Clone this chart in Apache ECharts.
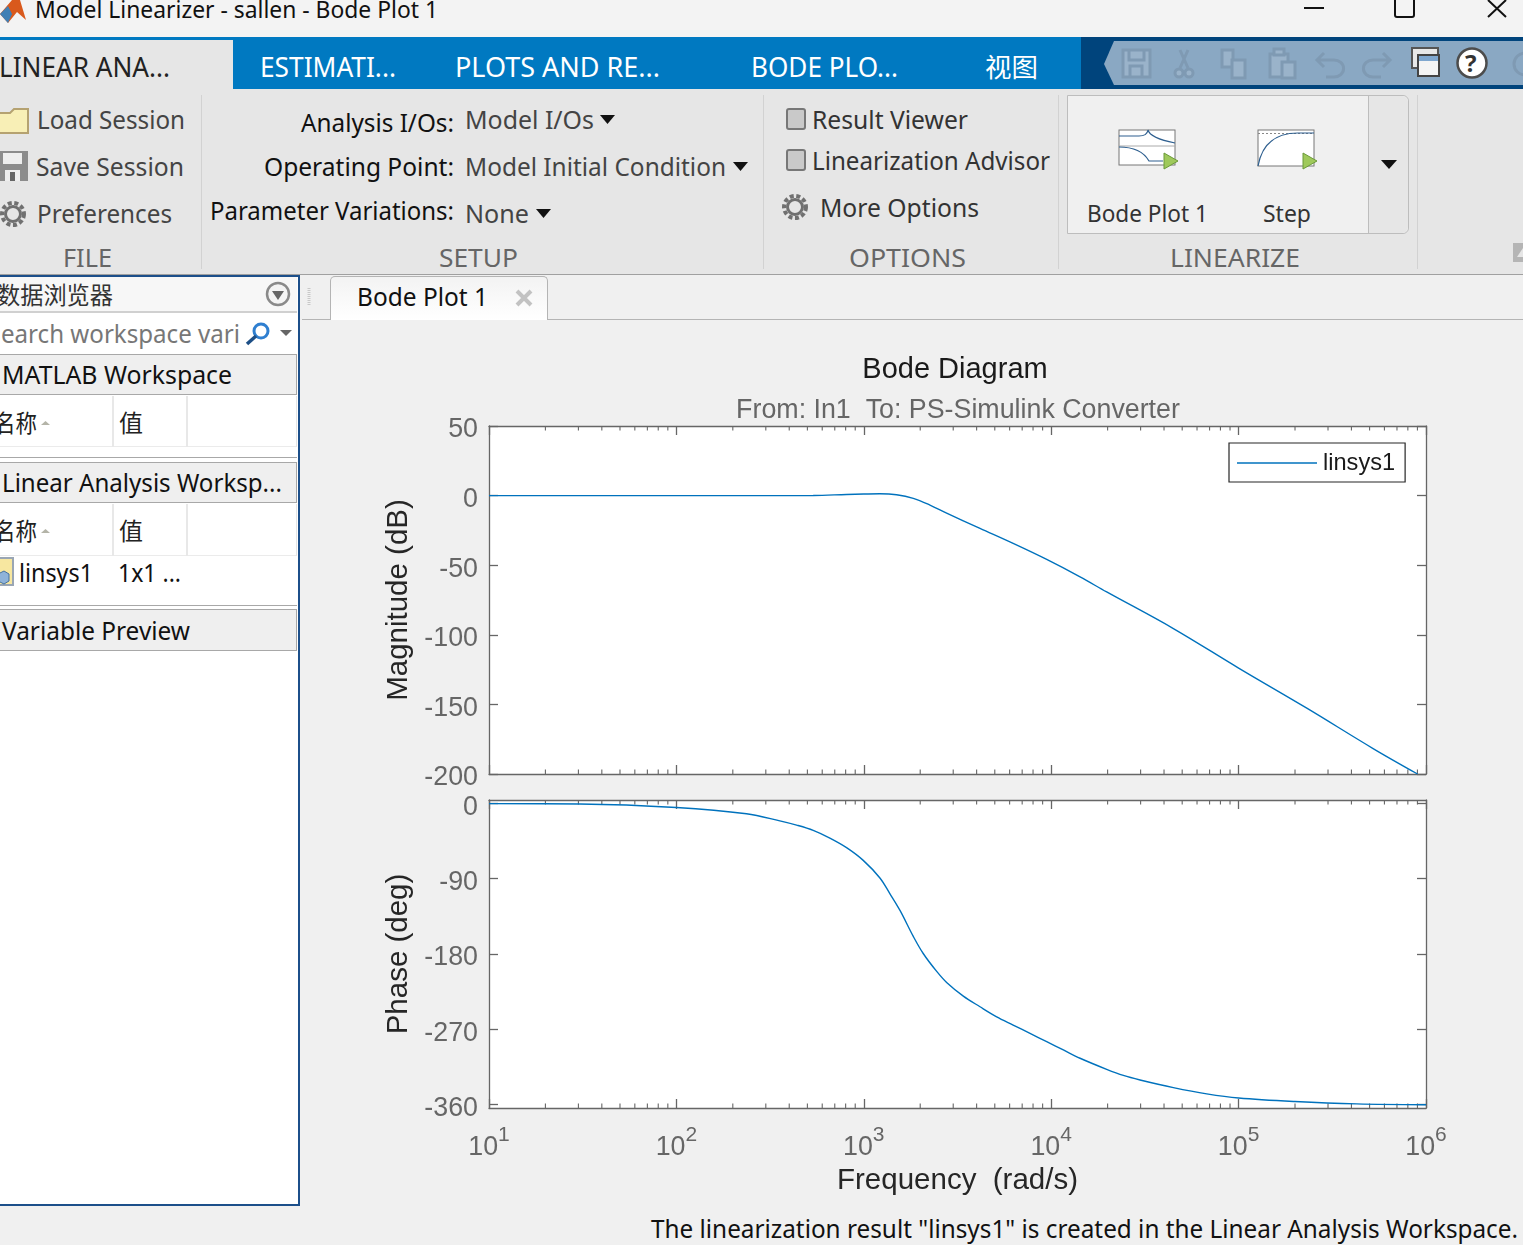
<!DOCTYPE html>
<html>
<head>
<meta charset="utf-8">
<title>Model Linearizer - sallen - Bode Plot 1</title>
<script src="https://cdn.jsdelivr.net/npm/echarts@6/dist/echarts.min.js"></script>
<style>
  html, body { margin: 0; width: 1523px; height: 1245px; overflow: hidden; background: #f0f0f0; }
  .box { position: absolute; box-sizing: border-box; }
  .txt { position: absolute; white-space: pre; transform-origin: left center; font-family: "Noto Sans", "Noto Sans CJK SC", sans-serif; line-height: 1; }
  #icons { position: absolute; left: 0; top: 0; }
  #container { position: absolute; left: 0; top: 0; width: 1523px; height: 1245px; }
</style>
</head>
<body>
<!-- window chrome -->
<div class="box" style="left:0;top:0;width:1523px;height:38px;background:#f3f3f3"></div>
<div class="box" style="left:0;top:37px;width:1081px;height:52px;background:#0079c1"></div>
<div class="box" style="left:1081px;top:37px;width:442px;height:52px;background:#00447c"></div>
<div class="box" style="left:0;top:40px;width:233px;height:49px;background:#e6e6e6"></div>
<div class="box" style="left:0;top:89px;width:1523px;height:185px;background:#e6e6e6"></div>
<div class="box" style="left:201px;top:95px;width:1px;height:174px;background:#d2d2d2"></div>
<div class="box" style="left:763px;top:95px;width:1px;height:174px;background:#d2d2d2"></div>
<div class="box" style="left:1058px;top:95px;width:1px;height:174px;background:#d2d2d2"></div>
<div class="box" style="left:1417px;top:95px;width:1px;height:174px;background:#d2d2d2"></div>
<div class="box" style="left:1067px;top:95px;width:342px;height:139px;background:#f0f0f0;border:1px solid #bdbdbd;border-radius:0 6px 6px 0"></div>
<div class="box" style="left:1368px;top:96px;width:40px;height:137px;background:#e6e6e6;border-left:1px solid #bdbdbd;border-radius:0 6px 6px 0"></div>
<div class="box" style="left:0;top:274px;width:1523px;height:1px;background:#a0a0a0"></div>
<!-- document tab -->
<div class="box" style="left:302px;top:319px;width:1221px;height:1px;background:#b4b4b4"></div>
<div class="box" style="left:330px;top:276px;width:218px;height:44px;background:linear-gradient(#f3f3f3,#fff);border:1px solid #b4b4b4;border-bottom:none;border-radius:5px 5px 0 0"></div>
<!-- data browser panel -->
<div class="box" style="left:-3px;top:275px;width:303px;height:931px;background:#fff;border:2px solid #1c4f8a"></div>
<div class="box" style="left:0;top:277px;width:297px;height:36px;background:#f7f7f7;border-bottom:2px solid #d0d0d0"></div>
<div class="box" style="left:-2px;top:354px;width:299px;height:41px;background:#efefef;border:1px solid #a8a8a8"></div>
<div class="box" style="left:-2px;top:396px;width:299px;height:51px;background:#fff;border-right:1px solid #e4e4e4;border-bottom:1px solid #ebebeb"></div>
<div class="box" style="left:112px;top:396px;width:76px;height:51px;border-left:2px solid #e8e8e8;border-right:2px solid #e8e8e8"></div>
<div class="box" style="left:-2px;top:457px;width:299px;height:1px;background:#a8a8a8"></div>
<div class="box" style="left:-2px;top:462px;width:299px;height:41px;background:#efefef;border:1px solid #a8a8a8"></div>
<div class="box" style="left:-2px;top:504px;width:299px;height:52px;background:#fff;border-right:1px solid #e4e4e4;border-bottom:1px solid #ebebeb"></div>
<div class="box" style="left:112px;top:504px;width:76px;height:52px;border-left:2px solid #e8e8e8;border-right:2px solid #e8e8e8"></div>
<div class="box" style="left:-2px;top:605px;width:299px;height:1px;background:#a8a8a8"></div>
<div class="box" style="left:-2px;top:609px;width:299px;height:42px;background:#efefef;border:1px solid #a8a8a8"></div>

<svg id="icons" width="1523" height="1245">
  <!-- matlab logo -->
  <polygon points="0,14 12,0 20,0 26,20 17,12 8,23" fill="#d9591c"/>
  <polygon points="0,14 8,6 12,14 8,23" fill="#3f7fb5"/>
  <!-- window buttons -->
  <rect x="1304" y="7" width="20" height="2" fill="#111"/>
  <rect x="1395" y="-6" width="19" height="23" rx="2" fill="none" stroke="#111" stroke-width="2"/>
  <path d="M1488 0 L1506 17 M1506 0 L1488 17" stroke="#111" stroke-width="2"/>
  <!-- quick access bar -->
  <polygon points="1104,64 1114,41 1523,41 1523,85 1114,85" fill="#8aa8c3"/>
  <g fill="#9ab3ca" stroke="#7f9ab3" stroke-width="3">
    <rect x="1123" y="50" width="27" height="27"/><path d="M1129 50v10h15V50M1130 77V66h12v11" fill="none"/>
    <path d="M1188 50L1180 68M1180 50L1188 68" fill="none"/><circle cx="1179" cy="73" r="4"/><circle cx="1189" cy="73" r="4"/>
    <rect x="1222" y="50" width="11" height="17"/><rect x="1232" y="60" width="13" height="18"/>
    <rect x="1270" y="54" width="18" height="23"/><rect x="1282" y="62" width="13" height="16"/><rect x="1274" y="49" width="10" height="6"/>
    <path d="M1318 60h16a9 8 0 0 1 0 17h-8M1324 53l-7 7 7 7" fill="none"/>
    <path d="M1389 60h-16a9 8 0 0 0 0 17h8M1383 53l7 7-7 7" fill="none"/>
  </g>
  <rect x="1412" y="48" width="26" height="20" fill="#e8e8e8" stroke="#555" stroke-width="2"/>
  <rect x="1418" y="55" width="21" height="21" fill="#f4f4f4" stroke="#444" stroke-width="2"/>
  <rect x="1419" y="56" width="19" height="5" fill="#7fa7cf"/>
  <circle cx="1472" cy="63" r="14.5" fill="#fff" stroke="#4c4c4c" stroke-width="2.5"/>
  <circle cx="1525" cy="64" r="11" fill="none" stroke="#7f9ab3" stroke-width="3"/>
  <!-- file group icons -->
  <path d="M-4 113h14l4 -4h14v24h-32z" fill="#f8efb6" stroke="#b5a271" stroke-width="2"/>
  <rect x="-2" y="151" width="30" height="30" fill="#8c8c8c"/>
  <rect x="3" y="153" width="19" height="11" fill="#eee"/><rect x="5" y="170" width="15" height="11" fill="#eee"/><rect x="10" y="172" width="5" height="9" fill="#666"/>
  <g fill="none" stroke="#707070">
    <circle cx="13" cy="214" r="11" stroke-width="4" stroke-dasharray="4 2.6"/>
    <circle cx="13" cy="214" r="7.5" stroke-width="3"/>
  </g>
  <g fill="none" stroke="#707070">
    <circle cx="795" cy="207" r="11" stroke-width="4" stroke-dasharray="4 2.6"/>
    <circle cx="795" cy="207" r="7.5" stroke-width="3"/>
  </g>
  <!-- option check boxes -->
  <rect x="787" y="109" width="18" height="20" rx="2" fill="#c9c9c9" stroke="#777" stroke-width="2"/>
  <rect x="787" y="150" width="18" height="20" rx="2" fill="#c9c9c9" stroke="#777" stroke-width="2"/>
  <!-- dropdown arrows -->
  <g fill="#111">
    <polygon points="600,115 615,115 607.5,124"/>
    <polygon points="733,162 748,162 740.5,171"/>
    <polygon points="536,209 551,209 543.5,218"/>
    <polygon points="1381,160 1397,160 1389,169"/>
  </g>
  <!-- gallery thumbnails -->
  <rect x="1119" y="130" width="56" height="35" fill="#fff" stroke="#777"/>
  <line x1="1119" y1="146" x2="1175" y2="146" stroke="#aaa"/>
  <path d="M1119 136h20q8 0 9-6q2 8 27 13M1119 147q22 0 30 14h14" fill="none" stroke="#2e5f8f" stroke-width="1.2"/>
  <rect x="1258" y="130" width="56" height="36" fill="#fff" stroke="#777"/>
  <path d="M1258 133.500h56" stroke="#888" stroke-dasharray="2 2"/>
  <path d="M1258 166q6-33 40-33h16" fill="none" stroke="#2e5f8f" stroke-width="1.2"/>
  <polygon points="1164,153 1178,161 1164,169" fill="#9fc95b" stroke="#6b9a3a"/>
  <polygon points="1303,153 1317,161 1303,169" fill="#9fc95b" stroke="#6b9a3a"/>
  <!-- expand mark at ribbon corner -->
  <path d="M1513 243h10v5l-6 9h6v5h-10" fill="#b5b5b5"/>
  <!-- document tab bits -->
  <path d="M309 288v17" stroke="#c8c8c8" stroke-width="3" stroke-dasharray="1 1"/>
  <path d="M517 291L531 305M531 291L517 305" stroke="#c2c2c2" stroke-width="4"/>
  <!-- panel icons -->
  <circle cx="278" cy="294" r="11" fill="#f4f4f4" stroke="#8a8a8a" stroke-width="2.500"/>
  <polygon points="272,291 284,291 278,300" fill="#666"/>
  <circle cx="261" cy="331" r="7" fill="none" stroke="#2f7fd0" stroke-width="3"/>
  <path d="M256 336L247 344" stroke="#1d4f86" stroke-width="3.500"/>
  <polygon points="280,330 292,330 286,336" fill="#666"/>
  <polygon points="41,425 50,425 45.500,421" fill="#b4b4a8"/>
  <polygon points="41,533 50,533 45.500,529" fill="#b4b4a8"/>
  <rect x="-2" y="558" width="15" height="27" fill="#f7e7a0" stroke="#9aa6b4" stroke-width="2"/>
  <path d="M-2 574l6-3 5 3v7l-5 3-6-3z" fill="#8fb3d9" stroke="#44709f"/>
</svg>

<div id="labels"></div>
<div id="container"></div>

<script type="text/javascript">
// magnitude curve
var magFreq = [10, 100, 356, 537, 809, 1000, 1219, 1496, 1837, 2254, 2767, 4169, 6266, 9462, 14256, 19770, 44870, 100000, 231200, 524800, 901600];
var magDb = [0, 0, 0, 0.1, 0.8, 1.1, 1.3, 0.6, -2, -6.8, -12.6, -23.6, -34.4, -45.9, -58.4, -69.2, -95.5, -123.9, -152.7, -181.9, -200];
// phase curve
var phaseFreq = [10, 30.5, 100, 236.6, 356.4, 438, 537, 659, 809, 993, 1219, 1377, 1560, 1837, 2075, 2443, 2767, 3396, 4169, 5117, 6266, 7708, 9462, 11610, 14256, 19770, 24270, 29785, 44870, 67610, 100000, 199500, 426600, 1000000];
var phaseDeg = [-0.4, -0.8, -5, -12.5, -21, -26.1, -32.4, -41.6, -53, -68.2, -89.2, -107.9, -128, -159, -179.4, -200.5, -214, -230.3, -243, -255, -264.8, -274.8, -284.7, -294.6, -304.5, -317.7, -325, -330.4, -339.5, -347, -352, -356.2, -359, -360];
var phaseTicks = [-360, -270, -180, -90, 0];
var minorFreq = [];
for (var d = 10; d < 1000000; d *= 10) {
    for (var m = 2; m < 10; m++) minorFreq.push(m * d);
}

// text, left, centre y, font size, colour, width in the picture
var uiLabels = [
    ['Model Linearizer - sallen - Bode Plot 1', 35, 9, 23, '#111', 403],
    ['LINEAR ANA...', -1, 66, 27, '#222', 171],
    ['ESTIMATI...', 260, 66, 27, '#fff', 136],
    ['PLOTS AND RE...', 455, 66, 27, '#fff', 205],
    ['BODE PLO...', 751, 66, 27, '#fff', 147],
    ['视图', 985, 67, 26, '#fff', 53],
    ['Load Session', 37, 119, 26, '#444', 148],
    ['Save Session', 36, 166, 26, '#444', 148],
    ['Preferences', 37, 213, 26, '#444', 135],
    ['FILE', 63, 257, 26, '#666', 49],
    ['SETUP', 439, 257, 26, '#666', 79],
    ['OPTIONS', 849, 257, 26, '#666', 117],
    ['LINEARIZE', 1170, 257, 26, '#666', 130],
    ['Analysis I/Os:', 301, 122, 26, '#111', 153],
    ['Operating Point:', 264, 166, 26, '#111', 190],
    ['Parameter Variations:', 210, 210, 26, '#111', 244],
    ['Model I/Os', 465, 119, 26, '#444', 129],
    ['Model Initial Condition', 465, 166, 26, '#444', 261],
    ['None', 465, 213, 26, '#444', 64],
    ['Result Viewer', 812, 119, 26, '#333', 156],
    ['Linearization Advisor', 812, 160, 26, '#333', 238],
    ['More Options', 820, 207, 26, '#333', 159],
    ['Bode Plot 1', 1087, 213, 24, '#333', 121],
    ['Step', 1263, 213, 24, '#333', 48],
    ['Bode Plot 1', 357, 296, 26, '#111', 131],
    ['数据浏览器', -3, 295, 24, '#333', 116],
    ['earch workspace vari', 1, 333, 25, '#777', 239],
    ['MATLAB Workspace', 2, 374, 25, '#111', 230],
    ['名称', -6, 423, 24, '#222', 43],
    ['值', 119, 423, 24, '#222', 24],
    ['Linear Analysis Worksp...', 2, 482, 25, '#111', 280],
    ['名称', -6, 531, 24, '#222', 43],
    ['值', 119, 531, 24, '#222', 24],
    ['linsys1', 19, 572, 25, '#111', 74],
    ['1x1 ...', 118, 572, 25, '#111', 63],
    ['Variable Preview', 2, 630, 25, '#111', 188],
    ['The linearization result "linsys1" is created in the Linear Analysis Workspace.', 651, 1228, 26, '#111', 867]
];
var labelBox = document.getElementById('labels');
uiLabels.forEach(function (l) {
    var el = document.createElement('div');
    el.className = 'txt';
    el.textContent = l[0];
    el.style.left = l[1] + 'px';
    el.style.top = l[2] + 'px';
    el.style.fontSize = l[3] + 'px';
    el.style.color = l[4];
    labelBox.appendChild(el);
    var w = el.getBoundingClientRect().width;
    el.style.transform = 'translateY(-50%) scaleX(' + (l[5] / w) + ')';
});
var helpMark = document.createElement('div');
helpMark.className = 'txt';
helpMark.textContent = '?';
helpMark.style.cssText = 'left:1465px;top:63px;font-size:24px;font-weight:bold;color:#333;transform:translateY(-50%)';
labelBox.appendChild(helpMark);

function zip(xs, ys) {
    return xs.map(function (x, i) { return [x, ys[i]]; });
}

var axisGray = '#666666';
var plotFont = '"Liberation Sans", Arial, sans-serif';

function xAxisOf(gridIndex, position, withLabels) {
    return {
        type: 'log',
        logBase: 10,
        gridIndex: gridIndex,
        position: position,
        min: 10,
        max: 1000000,
        name: withLabels ? 'Frequency  (rad/s)' : '',
        nameLocation: 'middle',
        nameGap: 58,
        nameTextStyle: { fontFamily: plotFont, fontSize: 29.5, color: '#262626' },
        axisLine: { show: true, onZero: false, lineStyle: { color: axisGray, width: 1.3 } },
        axisTick: { show: true, inside: true, length: 9, lineStyle: { color: axisGray, width: 1.3 } },
        minorTick: { show: false },
        splitLine: { show: false },
        axisLabel: {
            show: withLabels,
            margin: 17,
            hideOverlap: false,
            formatter: function (v) {
                return '{b|10}{s|' + Math.round(Math.log10(v)) + '}';
            },
            rich: {
                b: { fontFamily: plotFont, fontSize: 26.8, color: axisGray, lineHeight: 36, verticalAlign: 'bottom' },
                s: { fontFamily: plotFont, fontSize: 21, color: axisGray, lineHeight: 36, verticalAlign: 'top', padding: [0, 0, 6, 0] }
            }
        }
    };
}

function yAxisOf(gridIndex, position, name, range, withLabels) {
    return {
        type: 'value',
        gridIndex: gridIndex,
        position: position,
        min: range[0],
        max: range[1],
        name: name,
        nameLocation: 'middle',
        nameGap: 75,
        nameRotate: 90,
        nameMoveOverlap: false,
        nameTextStyle: { fontFamily: plotFont, fontSize: 29.5, color: '#262626' },
        axisLine: { show: true, onZero: false, lineStyle: { color: axisGray, width: 1.3 } },
        axisTick: { show: true, inside: true, length: 9, lineStyle: { color: axisGray, width: 1.3 } },
        splitLine: { show: false },
        axisLabel: {
            show: withLabels,
            margin: 11,
            verticalAlign: 'top',
            lineHeight: 8,
            fontFamily: plotFont,
            fontSize: 26.8,
            color: axisGray,
            showMinLabel: true,
            showMaxLabel: true
        }
    };
}

var magLeft = yAxisOf(0, 'left', 'Magnitude (dB)', [-200, 50], true);
var magRight = yAxisOf(0, 'right', '', [-200, 50], false);
magLeft.interval = 50;
magRight.interval = 50;
var phaseLeft = yAxisOf(1, 'left', 'Phase (deg)', [-363.9, 3.9], true);
var phaseRight = yAxisOf(1, 'right', '', [-363.9, 3.9], false);
phaseLeft.axisTick.customValues = phaseTicks;
phaseLeft.axisLabel.customValues = phaseTicks;
phaseRight.axisTick.customValues = phaseTicks;
phaseRight.axisLabel.customValues = phaseTicks;

// log minor ticks along the top and bottom edge of one plot
function minorTicks(params, api) {
    var x = api.coord([api.value(0), 0])[0];
    var top = params.coordSys.y;
    var bottom = top + params.coordSys.height;
    var style = { stroke: axisGray, lineWidth: 1.1 };
    return {
        type: 'group',
        children: [
            { type: 'line', shape: { x1: x, y1: top, x2: x, y2: top + 4.5 }, style: style },
            { type: 'line', shape: { x1: x, y1: bottom, x2: x, y2: bottom - 4.5 }, style: style }
        ]
    };
}
function minorSeries(xIdx, yIdx) {
    return {
        type: 'custom',
        xAxisIndex: xIdx,
        yAxisIndex: yIdx,
        silent: true,
        clip: false,
        renderItem: minorTicks,
        encode: { x: 0, y: 1 },
        data: minorFreq.map(function (f) { return [f, 0]; })
    };
}

function curve(name, xIdx, yIdx, data) {
    return {
        name: name,
        type: 'line',
        xAxisIndex: xIdx,
        yAxisIndex: yIdx,
        symbol: 'none',
        smooth: 0.35,
        lineStyle: { color: '#0072bd', width: 1.4 },
        itemStyle: { color: '#0072bd' },
        data: data,
        z: 5
    };
}

var myChart = echarts.init(document.getElementById('container'));
var option = {
    animation: false,
    backgroundColor: 'transparent',
    textStyle: { fontFamily: plotFont },
    title: [
        { text: 'Bode Diagram', left: 955, top: 355, textAlign: 'center', padding: 0, textStyle: { fontFamily: plotFont, fontSize: 29, fontWeight: 'normal', color: '#1a1a1a' } },
        { text: 'From: In1  To: PS-Simulink Converter', left: 958, top: 397, textAlign: 'center', padding: 0, textStyle: { fontFamily: plotFont, fontSize: 26.8, fontWeight: 'normal', color: axisGray } }
    ],
    legend: {
        data: [{ name: 'linsys1', icon: 'rect' }],
        left: 1229,
        top: 443,
        padding: [8, 10, 7, 8],
        itemWidth: 80,
        itemHeight: 1.5,
        backgroundColor: '#fff',
        borderColor: '#262626',
        borderWidth: 1.2,
        selectedMode: false,
        textStyle: { fontFamily: plotFont, fontSize: 23.6, color: '#1a1a1a', padding: [0, 0, 0, 1] }
    },
    grid: [
        { left: 489, top: 426, width: 937, height: 348, show: true, backgroundColor: '#fff', borderWidth: 0 },
        { left: 489, top: 800, width: 937, height: 308, show: true, backgroundColor: '#fff', borderWidth: 0 }
    ],
    xAxis: [
        xAxisOf(0, 'bottom', false),
        xAxisOf(0, 'top', false),
        xAxisOf(1, 'bottom', true),
        xAxisOf(1, 'top', false)
    ],
    yAxis: [magLeft, magRight, phaseLeft, phaseRight],
    series: [
        curve('linsys1', 0, 0, zip(magFreq, magDb)),
        curve('phase', 2, 2, zip(phaseFreq, phaseDeg)),
        minorSeries(0, 0),
        minorSeries(2, 2)
    ]
};
myChart.setOption(option, true);
</script>
</body>
</html>
